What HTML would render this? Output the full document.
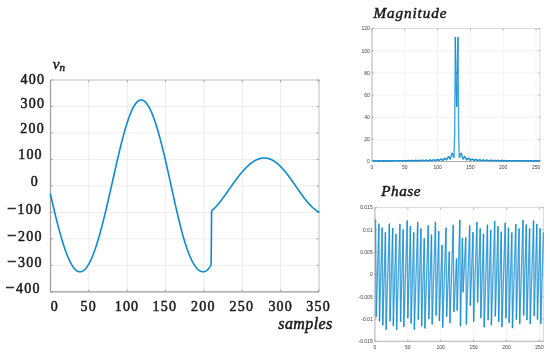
<!DOCTYPE html>
<html><head><meta charset="utf-8"><title>Signal, Magnitude and Phase</title>
<style>html,body{margin:0;padding:0;background:#fff;}svg{display:block;filter:blur(0.35px);}.ser{font-family:"Liberation Serif",serif;fill:#1a1a1a;}.ita{font-family:"Liberation Serif",serif;font-style:italic;fill:#1a1a1a;}.sm{font-family:"Liberation Sans",sans-serif;fill:#3c3c3c;font-size:5px;}</style></head><body>
<svg width="550" height="354" viewBox="0 0 550 354">
<rect width="550" height="354" fill="#ffffff"/>
<line x1="88.86" y1="80" x2="88.86" y2="291.8" stroke="#e8e8e8" stroke-width="0.8"/>
<line x1="127.21" y1="80" x2="127.21" y2="291.8" stroke="#e8e8e8" stroke-width="0.8"/>
<line x1="165.57" y1="80" x2="165.57" y2="291.8" stroke="#e8e8e8" stroke-width="0.8"/>
<line x1="203.93" y1="80" x2="203.93" y2="291.8" stroke="#e8e8e8" stroke-width="0.8"/>
<line x1="242.29" y1="80" x2="242.29" y2="291.8" stroke="#e8e8e8" stroke-width="0.8"/>
<line x1="280.64" y1="80" x2="280.64" y2="291.8" stroke="#e8e8e8" stroke-width="0.8"/>
<line x1="50.5" y1="265.33" x2="319" y2="265.33" stroke="#e8e8e8" stroke-width="0.8"/>
<line x1="50.5" y1="238.85" x2="319" y2="238.85" stroke="#e8e8e8" stroke-width="0.8"/>
<line x1="50.5" y1="212.38" x2="319" y2="212.38" stroke="#e8e8e8" stroke-width="0.8"/>
<line x1="50.5" y1="185.9" x2="319" y2="185.9" stroke="#e8e8e8" stroke-width="0.8"/>
<line x1="50.5" y1="159.43" x2="319" y2="159.43" stroke="#e8e8e8" stroke-width="0.8"/>
<line x1="50.5" y1="132.95" x2="319" y2="132.95" stroke="#e8e8e8" stroke-width="0.8"/>
<line x1="50.5" y1="106.48" x2="319" y2="106.48" stroke="#e8e8e8" stroke-width="0.8"/>
<path d="M50.5 80H319V291.8" fill="none" stroke="#c0c0c0" stroke-width="1.02"/>
<path d="M50.5 80V291.8H319" fill="none" stroke="#9c9c9c" stroke-width="1.2"/>
<path d="M50.5 291.8v-2.5M50.5 80v2.5M88.86 291.8v-2.5M88.86 80v2.5M127.21 291.8v-2.5M127.21 80v2.5M165.57 291.8v-2.5M165.57 80v2.5M203.93 291.8v-2.5M203.93 80v2.5M242.29 291.8v-2.5M242.29 80v2.5M280.64 291.8v-2.5M280.64 80v2.5M319 291.8v-2.5M319 80v2.5M50.5 291.8h2.5M319 291.8h-2.5M50.5 265.33h2.5M319 265.33h-2.5M50.5 238.85h2.5M319 238.85h-2.5M50.5 212.38h2.5M319 212.38h-2.5M50.5 185.9h2.5M319 185.9h-2.5M50.5 159.43h2.5M319 159.43h-2.5M50.5 132.95h2.5M319 132.95h-2.5M50.5 106.48h2.5M319 106.48h-2.5M50.5 80h2.5M319 80h-2.5" fill="none" stroke="#9c9c9c" stroke-width="0.8"/>
<path d="M50.50 194.37 L50.81 195.72 L51.11 197.06 L51.42 198.40 L51.73 199.74 L52.03 201.07 L52.34 202.39 L52.65 203.71 L52.95 205.03 L53.26 206.33 L53.57 207.64 L53.88 208.93 L54.18 210.22 L54.49 211.51 L54.80 212.78 L55.10 214.05 L55.41 215.31 L55.72 216.56 L56.02 217.80 L56.33 219.04 L56.64 220.26 L56.94 221.48 L57.25 222.69 L57.56 223.88 L57.86 225.07 L58.17 226.25 L58.48 227.41 L58.79 228.57 L59.09 229.71 L59.40 230.85 L59.71 231.97 L60.01 233.08 L60.32 234.18 L60.63 235.26 L60.93 236.34 L61.24 237.40 L61.55 238.45 L61.85 239.49 L62.16 240.51 L62.47 241.52 L62.77 242.51 L63.08 243.49 L63.39 244.46 L63.69 245.42 L64.00 246.35 L64.31 247.28 L64.62 248.19 L64.92 249.08 L65.23 249.96 L65.54 250.83 L65.84 251.68 L66.15 252.51 L66.46 253.33 L66.76 254.13 L67.07 254.91 L67.38 255.68 L67.68 256.44 L67.99 257.17 L68.30 257.89 L68.60 258.59 L68.91 259.28 L69.22 259.95 L69.53 260.60 L69.83 261.23 L70.14 261.85 L70.45 262.45 L70.75 263.03 L71.06 263.59 L71.37 264.14 L71.67 264.67 L71.98 265.18 L72.29 265.67 L72.59 266.14 L72.90 266.59 L73.21 267.03 L73.51 267.45 L73.82 267.85 L74.13 268.23 L74.43 268.59 L74.74 268.93 L75.05 269.25 L75.36 269.56 L75.66 269.84 L75.97 270.11 L76.28 270.35 L76.58 270.58 L76.89 270.79 L77.20 270.98 L77.50 271.15 L77.81 271.30 L78.12 271.43 L78.42 271.54 L78.73 271.64 L79.04 271.71 L79.34 271.76 L79.65 271.80 L79.96 271.81 L80.27 271.81 L80.57 271.78 L80.88 271.74 L81.19 271.67 L81.49 271.59 L81.80 271.49 L82.11 271.37 L82.41 271.23 L82.72 271.07 L83.03 270.89 L83.33 270.69 L83.64 270.47 L83.95 270.23 L84.25 269.98 L84.56 269.70 L84.87 269.41 L85.17 269.09 L85.48 268.76 L85.79 268.41 L86.10 268.04 L86.40 267.65 L86.71 267.24 L87.02 266.81 L87.32 266.37 L87.63 265.91 L87.94 265.42 L88.24 264.92 L88.55 264.41 L88.86 263.87 L89.16 263.31 L89.47 262.74 L89.78 262.15 L90.08 261.54 L90.39 260.92 L90.70 260.28 L91.01 259.62 L91.31 258.94 L91.62 258.25 L91.93 257.54 L92.23 256.81 L92.54 256.06 L92.85 255.30 L93.15 254.52 L93.46 253.73 L93.77 252.92 L94.07 252.10 L94.38 251.26 L94.69 250.40 L94.99 249.53 L95.30 248.64 L95.61 247.74 L95.91 246.82 L96.22 245.89 L96.53 244.94 L96.84 243.98 L97.14 243.01 L97.45 242.02 L97.76 241.02 L98.06 240.00 L98.37 238.97 L98.68 237.93 L98.98 236.87 L99.29 235.81 L99.60 234.73 L99.90 233.63 L100.21 232.53 L100.52 231.41 L100.82 230.29 L101.13 229.15 L101.44 228.00 L101.75 226.84 L102.05 225.66 L102.36 224.48 L102.67 223.29 L102.97 222.09 L103.28 220.88 L103.59 219.66 L103.89 218.43 L104.20 217.19 L104.51 215.94 L104.81 214.68 L105.12 213.42 L105.43 212.15 L105.73 210.87 L106.04 209.59 L106.35 208.29 L106.65 206.99 L106.96 205.69 L107.27 204.38 L107.58 203.06 L107.88 201.74 L108.19 200.41 L108.50 199.08 L108.80 197.74 L109.11 196.40 L109.42 195.05 L109.72 193.71 L110.03 192.35 L110.34 191.00 L110.64 189.64 L110.95 188.28 L111.26 186.92 L111.56 185.56 L111.87 184.19 L112.18 182.83 L112.49 181.46 L112.79 180.10 L113.10 178.73 L113.41 177.37 L113.71 176.00 L114.02 174.64 L114.33 173.28 L114.63 171.92 L114.94 170.56 L115.25 169.21 L115.55 167.86 L115.86 166.51 L116.17 165.17 L116.47 163.83 L116.78 162.50 L117.09 161.17 L117.39 159.84 L117.70 158.53 L118.01 157.22 L118.32 155.91 L118.62 154.61 L118.93 153.32 L119.24 152.04 L119.54 150.77 L119.85 149.50 L120.16 148.25 L120.46 147.00 L120.77 145.76 L121.08 144.53 L121.38 143.31 L121.69 142.11 L122.00 140.91 L122.30 139.73 L122.61 138.55 L122.92 137.39 L123.23 136.24 L123.53 135.11 L123.84 133.99 L124.15 132.88 L124.45 131.78 L124.76 130.70 L125.07 129.63 L125.37 128.58 L125.68 127.54 L125.99 126.52 L126.29 125.52 L126.60 124.53 L126.91 123.55 L127.21 122.59 L127.52 121.65 L127.83 120.73 L128.13 119.82 L128.44 118.93 L128.75 118.06 L129.06 117.21 L129.36 116.37 L129.67 115.56 L129.98 114.76 L130.28 113.98 L130.59 113.22 L130.90 112.48 L131.20 111.76 L131.51 111.06 L131.82 110.38 L132.12 109.72 L132.43 109.08 L132.74 108.47 L133.04 107.87 L133.35 107.29 L133.66 106.73 L133.97 106.20 L134.27 105.69 L134.58 105.19 L134.89 104.72 L135.19 104.28 L135.50 103.85 L135.81 103.44 L136.11 103.06 L136.42 102.70 L136.73 102.36 L137.03 102.05 L137.34 101.75 L137.65 101.48 L137.95 101.23 L138.26 101.01 L138.57 100.81 L138.87 100.62 L139.18 100.47 L139.49 100.33 L139.80 100.22 L140.10 100.13 L140.41 100.06 L140.72 100.01 L141.02 99.99 L141.33 99.99 L141.64 100.01 L141.94 100.06 L142.25 100.13 L142.56 100.22 L142.86 100.33 L143.17 100.46 L143.48 100.62 L143.78 100.80 L144.09 101.00 L144.40 101.22 L144.71 101.47 L145.01 101.73 L145.32 102.02 L145.63 102.33 L145.93 102.66 L146.24 103.01 L146.55 103.39 L146.85 103.78 L147.16 104.20 L147.47 104.63 L147.77 105.09 L148.08 105.57 L148.39 106.07 L148.69 106.59 L149.00 107.13 L149.31 107.69 L149.61 108.27 L149.92 108.87 L150.23 109.49 L150.54 110.12 L150.84 110.78 L151.15 111.46 L151.46 112.15 L151.76 112.87 L152.07 113.60 L152.38 114.35 L152.68 115.12 L152.99 115.91 L153.30 116.72 L153.60 117.54 L153.91 118.38 L154.22 119.24 L154.52 120.11 L154.83 121.01 L155.14 121.91 L155.45 122.84 L155.75 123.78 L156.06 124.74 L156.37 125.71 L156.67 126.70 L156.98 127.70 L157.29 128.72 L157.59 129.75 L157.90 130.80 L158.21 131.86 L158.51 132.94 L158.82 134.02 L159.13 135.13 L159.43 136.24 L159.74 137.37 L160.05 138.51 L160.35 139.67 L160.66 140.83 L160.97 142.01 L161.28 143.20 L161.58 144.40 L161.89 145.61 L162.20 146.83 L162.50 148.07 L162.81 149.31 L163.12 150.56 L163.42 151.82 L163.73 153.09 L164.04 154.37 L164.34 155.66 L164.65 156.96 L164.96 158.27 L165.26 159.58 L165.57 160.90 L165.88 162.23 L166.19 163.56 L166.49 164.90 L166.80 166.25 L167.11 167.60 L167.41 168.96 L167.72 170.32 L168.03 171.69 L168.33 173.06 L168.64 174.44 L168.95 175.81 L169.25 177.20 L169.56 178.58 L169.87 179.97 L170.17 181.37 L170.48 182.76 L170.79 184.15 L171.09 185.55 L171.40 186.95 L171.71 188.35 L172.02 189.74 L172.32 191.14 L172.63 192.54 L172.94 193.93 L173.24 195.33 L173.55 196.72 L173.86 198.11 L174.16 199.49 L174.47 200.87 L174.78 202.25 L175.08 203.62 L175.39 204.99 L175.70 206.35 L176.00 207.70 L176.31 209.05 L176.62 210.39 L176.93 211.72 L177.23 213.04 L177.54 214.36 L177.85 215.66 L178.15 216.96 L178.46 218.25 L178.77 219.53 L179.07 220.79 L179.38 222.05 L179.69 223.29 L179.99 224.52 L180.30 225.74 L180.61 226.95 L180.91 228.14 L181.22 229.32 L181.53 230.49 L181.83 231.64 L182.14 232.78 L182.45 233.90 L182.76 235.01 L183.06 236.11 L183.37 237.18 L183.68 238.25 L183.98 239.29 L184.29 240.33 L184.60 241.34 L184.90 242.34 L185.21 243.32 L185.52 244.28 L185.82 245.23 L186.13 246.16 L186.44 247.08 L186.74 247.97 L187.05 248.85 L187.36 249.72 L187.67 250.56 L187.97 251.39 L188.28 252.20 L188.59 253.00 L188.89 253.78 L189.20 254.54 L189.51 255.29 L189.81 256.02 L190.12 256.73 L190.43 257.43 L190.73 258.11 L191.04 258.77 L191.35 259.42 L191.65 260.05 L191.96 260.66 L192.27 261.26 L192.57 261.84 L192.88 262.41 L193.19 262.96 L193.50 263.49 L193.80 264.01 L194.11 264.51 L194.42 265.00 L194.72 265.47 L195.03 265.92 L195.34 266.35 L195.64 266.77 L195.95 267.18 L196.26 267.56 L196.56 267.93 L196.87 268.29 L197.18 268.63 L197.48 268.95 L197.79 269.25 L198.10 269.54 L198.41 269.81 L198.71 270.06 L199.02 270.30 L199.33 270.52 L199.63 270.73 L199.94 270.91 L200.25 271.08 L200.55 271.23 L200.86 271.37 L201.17 271.48 L201.47 271.58 L201.78 271.67 L202.09 271.73 L202.39 271.77 L202.70 271.80 L203.01 271.81 L203.31 271.80 L203.62 271.77 L203.93 271.73 L204.24 271.66 L204.54 271.58 L204.85 271.47 L205.16 271.35 L205.46 271.21 L205.77 271.05 L206.08 270.86 L206.38 270.66 L206.69 270.44 L207.00 270.19 L207.30 269.93 L207.61 269.64 L207.92 269.34 L208.22 269.01 L208.53 268.66 L208.84 268.29 L209.15 267.90 L209.45 267.48 L209.76 267.04 L210.07 266.58 L210.37 266.10 L210.68 265.59 L211.14 264.27 L211.60 212.38 L211.83 210.52 L212.14 210.28 L212.44 210.02 L212.75 209.76 L213.06 209.50 L213.36 209.22 L213.67 208.94 L213.98 208.65 L214.29 208.36 L214.59 208.06 L214.90 207.75 L215.21 207.44 L215.51 207.12 L215.82 206.80 L216.13 206.47 L216.43 206.13 L216.74 205.79 L217.05 205.45 L217.35 205.10 L217.66 204.74 L217.97 204.38 L218.27 204.02 L218.58 203.65 L218.89 203.28 L219.19 202.90 L219.50 202.52 L219.81 202.14 L220.12 201.75 L220.42 201.36 L220.73 200.96 L221.04 200.57 L221.34 200.16 L221.65 199.76 L221.96 199.35 L222.26 198.94 L222.57 198.53 L222.88 198.12 L223.18 197.70 L223.49 197.28 L223.80 196.86 L224.10 196.44 L224.41 196.01 L224.72 195.58 L225.03 195.16 L225.33 194.73 L225.64 194.29 L225.95 193.86 L226.25 193.43 L226.56 193.00 L226.87 192.56 L227.17 192.12 L227.48 191.69 L227.79 191.25 L228.09 190.81 L228.40 190.38 L228.71 189.94 L229.01 189.50 L229.32 189.06 L229.63 188.63 L229.93 188.19 L230.24 187.75 L230.55 187.31 L230.86 186.88 L231.16 186.44 L231.47 186.01 L231.78 185.57 L232.08 185.14 L232.39 184.71 L232.70 184.28 L233.00 183.85 L233.31 183.42 L233.62 182.99 L233.92 182.57 L234.23 182.14 L234.54 181.72 L234.84 181.30 L235.15 180.88 L235.46 180.46 L235.77 180.05 L236.07 179.63 L236.38 179.22 L236.69 178.81 L236.99 178.41 L237.30 178.00 L237.61 177.60 L237.91 177.20 L238.22 176.80 L238.53 176.41 L238.83 176.02 L239.14 175.63 L239.45 175.24 L239.75 174.86 L240.06 174.48 L240.37 174.10 L240.67 173.72 L240.98 173.35 L241.29 172.98 L241.60 172.62 L241.90 172.26 L242.21 171.90 L242.52 171.54 L242.82 171.19 L243.13 170.84 L243.44 170.50 L243.74 170.16 L244.05 169.82 L244.36 169.49 L244.66 169.16 L244.97 168.83 L245.28 168.51 L245.58 168.19 L245.89 167.88 L246.20 167.57 L246.51 167.26 L246.81 166.96 L247.12 166.67 L247.43 166.37 L247.73 166.08 L248.04 165.80 L248.35 165.52 L248.65 165.24 L248.96 164.97 L249.27 164.71 L249.57 164.45 L249.88 164.19 L250.19 163.94 L250.49 163.69 L250.80 163.44 L251.11 163.21 L251.41 162.97 L251.72 162.74 L252.03 162.52 L252.34 162.30 L252.64 162.09 L252.95 161.88 L253.26 161.67 L253.56 161.48 L253.87 161.28 L254.18 161.09 L254.48 160.91 L254.79 160.73 L255.10 160.56 L255.40 160.39 L255.71 160.23 L256.02 160.07 L256.32 159.92 L256.63 159.77 L256.94 159.63 L257.25 159.50 L257.55 159.37 L257.86 159.25 L258.17 159.13 L258.47 159.01 L258.78 158.91 L259.09 158.80 L259.39 158.71 L259.70 158.62 L260.01 158.53 L260.31 158.46 L260.62 158.38 L260.93 158.32 L261.23 158.25 L261.54 158.20 L261.85 158.15 L262.15 158.11 L262.46 158.07 L262.77 158.04 L263.08 158.01 L263.38 157.99 L263.69 157.98 L264.00 157.97 L264.30 157.97 L264.61 157.97 L264.92 157.98 L265.22 158.00 L265.53 158.02 L265.84 158.05 L266.14 158.09 L266.45 158.13 L266.76 158.18 L267.06 158.23 L267.37 158.29 L267.68 158.36 L267.99 158.43 L268.29 158.51 L268.60 158.59 L268.91 158.68 L269.21 158.78 L269.52 158.88 L269.83 158.99 L270.13 159.11 L270.44 159.23 L270.75 159.36 L271.05 159.49 L271.36 159.63 L271.67 159.78 L271.97 159.93 L272.28 160.09 L272.59 160.25 L272.89 160.42 L273.20 160.60 L273.51 160.78 L273.82 160.97 L274.12 161.16 L274.43 161.36 L274.74 161.57 L275.04 161.78 L275.35 162.00 L275.66 162.22 L275.96 162.45 L276.27 162.68 L276.58 162.92 L276.88 163.17 L277.19 163.42 L277.50 163.68 L277.80 163.94 L278.11 164.21 L278.42 164.48 L278.73 164.76 L279.03 165.04 L279.34 165.33 L279.65 165.62 L279.95 165.92 L280.26 166.22 L280.57 166.53 L280.87 166.84 L281.18 167.16 L281.49 167.48 L281.79 167.81 L282.10 168.14 L282.41 168.47 L282.71 168.81 L283.02 169.16 L283.33 169.51 L283.63 169.86 L283.94 170.22 L284.25 170.58 L284.56 170.94 L284.86 171.31 L285.17 171.68 L285.48 172.06 L285.78 172.44 L286.09 172.82 L286.40 173.21 L286.70 173.60 L287.01 173.99 L287.32 174.39 L287.62 174.79 L287.93 175.19 L288.24 175.60 L288.54 176.00 L288.85 176.41 L289.16 176.83 L289.47 177.24 L289.77 177.66 L290.08 178.08 L290.39 178.50 L290.69 178.93 L291.00 179.35 L291.31 179.78 L291.61 180.21 L291.92 180.64 L292.23 181.07 L292.53 181.51 L292.84 181.94 L293.15 182.38 L293.45 182.82 L293.76 183.26 L294.07 183.69 L294.37 184.13 L294.68 184.58 L294.99 185.02 L295.30 185.46 L295.60 185.90 L295.91 186.34 L296.22 186.78 L296.52 187.23 L296.83 187.67 L297.14 188.11 L297.44 188.55 L297.75 188.99 L298.06 189.43 L298.36 189.87 L298.67 190.31 L298.98 190.75 L299.28 191.18 L299.59 191.62 L299.90 192.05 L300.21 192.49 L300.51 192.92 L300.82 193.35 L301.13 193.77 L301.43 194.20 L301.74 194.62 L302.05 195.04 L302.35 195.46 L302.66 195.88 L302.97 196.30 L303.27 196.71 L303.58 197.12 L303.89 197.52 L304.19 197.93 L304.50 198.33 L304.81 198.73 L305.11 199.12 L305.42 199.51 L305.73 199.90 L306.04 200.28 L306.34 200.66 L306.65 201.04 L306.96 201.42 L307.26 201.78 L307.57 202.15 L307.88 202.51 L308.18 202.87 L308.49 203.22 L308.80 203.57 L309.10 203.91 L309.41 204.25 L309.72 204.59 L310.02 204.92 L310.33 205.24 L310.64 205.56 L310.95 205.88 L311.25 206.19 L311.56 206.49 L311.87 206.79 L312.17 207.09 L312.48 207.38 L312.79 207.66 L313.09 207.94 L313.40 208.21 L313.71 208.48 L314.01 208.74 L314.32 208.99 L314.63 209.24 L314.93 209.48 L315.24 209.72 L315.55 209.95 L315.85 210.18 L316.16 210.40 L316.47 210.61 L316.78 210.81 L317.08 211.01 L317.39 211.21 L317.70 211.39 L318.00 211.57 L318.31 211.74 L318.62 211.91 L318.92 212.07" fill="none" stroke="#0a8ad2" stroke-width="1.6" stroke-linejoin="round" stroke-linecap="round"/>
<text class="ser" x="20.5" y="84" font-size="14" letter-spacing="1.2" stroke="#1a1a1a" stroke-width="0.5">400</text>
<text class="ser" x="20.5" y="107.8" font-size="14" letter-spacing="1.2" stroke="#1a1a1a" stroke-width="0.5">300</text>
<text class="ser" x="20.3" y="132.7" font-size="14" letter-spacing="1.2" stroke="#1a1a1a" stroke-width="0.5">200</text>
<text class="ser" x="18.2" y="158.7" font-size="14" letter-spacing="1.2" stroke="#1a1a1a" stroke-width="0.5">100</text>
<text class="ser" x="30.8" y="186.4" font-size="14" letter-spacing="1.2" stroke="#1a1a1a" stroke-width="0.5">0</text>
<text class="ser" y="213.6" font-size="14" letter-spacing="1.2" stroke="#1a1a1a" stroke-width="0.5"><tspan x="7.1" font-size="16.5">−</tspan><tspan x="17.6">100</tspan></text>
<text class="ser" y="240.5" font-size="14" letter-spacing="1.2" stroke="#1a1a1a" stroke-width="0.5"><tspan x="7.0" font-size="16.5">−</tspan><tspan x="18.0">200</tspan></text>
<text class="ser" y="266.9" font-size="14" letter-spacing="1.2" stroke="#1a1a1a" stroke-width="0.5"><tspan x="7.0" font-size="16.5">−</tspan><tspan x="18.0">300</tspan></text>
<text class="ser" y="293" font-size="14" letter-spacing="1.2" stroke="#1a1a1a" stroke-width="0.5"><tspan x="5.2" font-size="16.5">−</tspan><tspan x="16.0">400</tspan></text>
<text class="ser" x="54.8" y="310.5" font-size="14" letter-spacing="1.2" text-anchor="middle" stroke="#1a1a1a" stroke-width="0.5">0</text>
<text class="ser" x="88.80000000000001" y="310.5" font-size="14" letter-spacing="1.2" text-anchor="middle" stroke="#1a1a1a" stroke-width="0.5">50</text>
<text class="ser" x="127.0" y="310.5" font-size="14" letter-spacing="1.2" text-anchor="middle" stroke="#1a1a1a" stroke-width="0.5">100</text>
<text class="ser" x="164.9" y="310.5" font-size="14" letter-spacing="1.2" text-anchor="middle" stroke="#1a1a1a" stroke-width="0.5">150</text>
<text class="ser" x="203.4" y="310.5" font-size="14" letter-spacing="1.2" text-anchor="middle" stroke="#1a1a1a" stroke-width="0.5">200</text>
<text class="ser" x="241.9" y="310.5" font-size="14" letter-spacing="1.2" text-anchor="middle" stroke="#1a1a1a" stroke-width="0.5">250</text>
<text class="ser" x="280.7" y="310.5" font-size="14" letter-spacing="1.2" text-anchor="middle" stroke="#1a1a1a" stroke-width="0.5">300</text>
<text class="ser" x="318.59999999999997" y="310.5" font-size="14" letter-spacing="1.2" text-anchor="middle" stroke="#1a1a1a" stroke-width="0.5">350</text>
<text class="ita" x="278.3" y="328.6" font-size="16" letter-spacing="0.4" stroke="#1a1a1a" stroke-width="0.5">samples</text>
<text class="ita" x="52.8" y="69.1" font-size="15.2" stroke="#1a1a1a" stroke-width="0.5">v<tspan font-size="11" dy="1.9">n</tspan></text>
<line x1="404.81" y1="28.6" x2="404.81" y2="161.5" stroke="#ececec" stroke-width="0.6"/>
<line x1="437.62" y1="28.6" x2="437.62" y2="161.5" stroke="#ececec" stroke-width="0.6"/>
<line x1="470.44" y1="28.6" x2="470.44" y2="161.5" stroke="#ececec" stroke-width="0.6"/>
<line x1="503.25" y1="28.6" x2="503.25" y2="161.5" stroke="#ececec" stroke-width="0.6"/>
<line x1="536.06" y1="28.6" x2="536.06" y2="161.5" stroke="#ececec" stroke-width="0.6"/>
<line x1="372" y1="139.35" x2="540" y2="139.35" stroke="#ececec" stroke-width="0.6"/>
<line x1="372" y1="117.2" x2="540" y2="117.2" stroke="#ececec" stroke-width="0.6"/>
<line x1="372" y1="95.05" x2="540" y2="95.05" stroke="#ececec" stroke-width="0.6"/>
<line x1="372" y1="72.9" x2="540" y2="72.9" stroke="#ececec" stroke-width="0.6"/>
<line x1="372" y1="50.75" x2="540" y2="50.75" stroke="#ececec" stroke-width="0.6"/>
<path d="M372 28.6H540V161.5" fill="none" stroke="#cccccc" stroke-width="0.77"/>
<path d="M372 28.6V161.5H540" fill="none" stroke="#a6a6a6" stroke-width="0.9"/>
<path d="M372 161.5v-1.8M372 28.6v1.8M404.81 161.5v-1.8M404.81 28.6v1.8M437.62 161.5v-1.8M437.62 28.6v1.8M470.44 161.5v-1.8M470.44 28.6v1.8M503.25 161.5v-1.8M503.25 28.6v1.8M536.06 161.5v-1.8M536.06 28.6v1.8M372 161.5h1.8M540 161.5h-1.8M372 139.35h1.8M540 139.35h-1.8M372 117.2h1.8M540 117.2h-1.8M372 95.05h1.8M540 95.05h-1.8M372 72.9h1.8M540 72.9h-1.8M372 50.75h1.8M540 50.75h-1.8M372 28.6h1.8M540 28.6h-1.8" fill="none" stroke="#a6a6a6" stroke-width="0.8"/>
<path d="M372.66 160.86L373.31 160.87M373.97 160.80L374.62 160.73M375.28 160.74L375.94 160.81M376.59 160.87L377.25 160.84M377.91 160.76L378.56 160.71M379.22 160.76L379.88 160.84M380.53 160.86L381.19 160.80M381.84 160.72L382.50 160.71M383.16 160.78L383.81 160.85M384.47 160.84L385.12 160.75M385.78 160.68L386.44 160.71M387.09 160.80L387.75 160.85M388.41 160.80L389.06 160.70M389.72 160.66L390.38 160.73M391.03 160.83L391.69 160.84M392.34 160.75L393.00 160.65M393.66 160.66L394.31 160.76M394.97 160.84L395.62 160.80M396.28 160.68L396.94 160.62M397.59 160.67L398.25 160.79M398.91 160.83L399.56 160.74M400.22 160.62L400.88 160.60M401.53 160.70L402.19 160.81M402.84 160.79L403.50 160.66M404.16 160.56L404.81 160.60M405.47 160.74L406.12 160.81M406.78 160.73L407.44 160.57M408.09 160.52L408.75 160.62M409.41 160.76L410.06 160.78M410.72 160.64L411.38 160.49M412.03 160.50L412.69 160.65M413.34 160.77L414.00 160.71M414.66 160.52L415.31 160.41M415.97 160.51L416.62 160.69M417.28 160.75L417.94 160.60M418.59 160.40L419.25 160.36M419.91 160.53L420.56 160.71M421.22 160.68L421.88 160.45M422.53 160.27L423.19 160.33M423.84 160.57L424.50 160.70M425.16 160.55L425.81 160.26M426.47 160.15L427.12 160.34M427.78 160.60L428.44 160.63M429.09 160.34L429.75 160.05M430.41 160.05L431.06 160.36M431.72 160.60L432.38 160.46M433.03 160.05L433.69 159.80M434.34 159.98L435.00 160.38M435.66 160.51L436.31 160.15M436.97 159.65L437.62 159.53M438.28 159.93L438.94 160.36M439.59 160.26L440.25 159.63M440.91 159.09L441.56 159.22M442.22 159.85L442.88 160.21M443.53 159.71L444.19 158.73M444.84 158.25L445.50 158.78M446.16 159.66L446.81 159.69M447.47 158.44L448.12 156.94M448.78 156.68L449.44 157.90M450.09 158.95L450.75 157.88M451.41 155.08L452.06 153.30M452.72 154.19L453.38 156.63M454.03 157.07L454.69 133.81M455.34 37.46L456.00 72.90M456.66 106.12L457.31 72.90M457.97 37.46L458.62 133.81M459.28 157.07L459.94 156.63M460.59 154.19L461.25 153.30M461.91 155.08L462.56 157.88M463.22 158.95L463.88 157.90M464.53 156.68L465.19 156.94M465.84 158.44L466.50 159.69M467.16 159.66L467.81 158.78M468.47 158.25L469.12 158.73M469.78 159.71L470.44 160.21M471.09 159.85L471.75 159.22M472.41 159.09L473.06 159.63M473.72 160.26L474.38 160.36M475.03 159.93L475.69 159.53M476.34 159.65L477.00 160.15M477.66 160.51L478.31 160.38M478.97 159.98L479.62 159.80M480.28 160.05L480.94 160.46M481.59 160.60L482.25 160.36M482.91 160.05L483.56 160.05M484.22 160.34L484.88 160.63M485.53 160.60L486.19 160.34M486.84 160.15L487.50 160.26M488.16 160.55L488.81 160.70M489.47 160.57L490.12 160.33M490.78 160.27L491.44 160.45M492.09 160.68L492.75 160.71M493.41 160.53L494.06 160.36M494.72 160.40L495.38 160.60M496.03 160.75L496.69 160.69M497.34 160.51L498.00 160.41M498.66 160.52L499.31 160.71M499.97 160.77L500.62 160.65M501.28 160.50L501.94 160.49M502.59 160.64L503.25 160.78M503.91 160.76L504.56 160.62M505.22 160.52L505.88 160.57M506.53 160.73L507.19 160.81M507.84 160.74L508.50 160.60M509.16 160.56L509.81 160.66M510.47 160.79L511.12 160.81M511.78 160.70L512.44 160.60M513.09 160.62L513.75 160.74M514.41 160.83L515.06 160.79M515.72 160.67L516.38 160.62M517.03 160.68L517.69 160.80M518.34 160.84L519.00 160.76M519.66 160.66L520.31 160.65M520.97 160.75L521.62 160.84M522.28 160.83L522.94 160.73M523.59 160.66L524.25 160.70M524.91 160.80L525.56 160.85M526.22 160.80L526.88 160.71M527.53 160.68L528.19 160.75M528.84 160.84L529.50 160.85M530.16 160.78L530.81 160.71M531.47 160.72L532.12 160.80M532.78 160.86L533.44 160.84M534.09 160.76L534.75 160.71M535.41 160.76L536.06 160.84M536.72 160.87L537.38 160.81M538.03 160.74L538.69 160.73M539.34 160.80L540.00 160.87" fill="none" stroke="#0a8ad2" stroke-opacity="0.78" stroke-width="1.35" stroke-linecap="round"/>
<path d="M373.31 160.87L373.97 160.80M374.62 160.73L375.28 160.74M375.94 160.81L376.59 160.87M377.25 160.84L377.91 160.76M378.56 160.71L379.22 160.76M379.88 160.84L380.53 160.86M381.19 160.80L381.84 160.72M382.50 160.71L383.16 160.78M383.81 160.85L384.47 160.84M385.12 160.75L385.78 160.68M386.44 160.71L387.09 160.80M387.75 160.85L388.41 160.80M389.06 160.70L389.72 160.66M390.38 160.73L391.03 160.83M391.69 160.84L392.34 160.75M393.00 160.65L393.66 160.66M394.31 160.76L394.97 160.84M395.62 160.80L396.28 160.68M396.94 160.62L397.59 160.67M398.25 160.79L398.91 160.83M399.56 160.74L400.22 160.62M400.88 160.60L401.53 160.70M402.19 160.81L402.84 160.79M403.50 160.66L404.16 160.56M404.81 160.60L405.47 160.74M406.12 160.81L406.78 160.73M407.44 160.57L408.09 160.52M408.75 160.62L409.41 160.76M410.06 160.78L410.72 160.64M411.38 160.49L412.03 160.50M412.69 160.65L413.34 160.77M414.00 160.71L414.66 160.52M415.31 160.41L415.97 160.51M416.62 160.69L417.28 160.75M417.94 160.60L418.59 160.40M419.25 160.36L419.91 160.53M420.56 160.71L421.22 160.68M421.88 160.45L422.53 160.27M423.19 160.33L423.84 160.57M424.50 160.70L425.16 160.55M425.81 160.26L426.47 160.15M427.12 160.34L427.78 160.60M428.44 160.63L429.09 160.34M429.75 160.05L430.41 160.05M431.06 160.36L431.72 160.60M432.38 160.46L433.03 160.05M433.69 159.80L434.34 159.98M435.00 160.38L435.66 160.51M436.31 160.15L436.97 159.65M437.62 159.53L438.28 159.93M438.94 160.36L439.59 160.26M440.25 159.63L440.91 159.09M441.56 159.22L442.22 159.85M442.88 160.21L443.53 159.71M444.19 158.73L444.84 158.25M445.50 158.78L446.16 159.66M446.81 159.69L447.47 158.44M448.12 156.94L448.78 156.68M449.44 157.90L450.09 158.95M450.75 157.88L451.41 155.08M452.06 153.30L452.72 154.19M453.38 156.63L454.03 157.07M454.69 133.81L455.34 37.46M456.00 72.90L456.66 106.12M457.31 72.90L457.97 37.46M458.62 133.81L459.28 157.07M459.94 156.63L460.59 154.19M461.25 153.30L461.91 155.08M462.56 157.88L463.22 158.95M463.88 157.90L464.53 156.68M465.19 156.94L465.84 158.44M466.50 159.69L467.16 159.66M467.81 158.78L468.47 158.25M469.12 158.73L469.78 159.71M470.44 160.21L471.09 159.85M471.75 159.22L472.41 159.09M473.06 159.63L473.72 160.26M474.38 160.36L475.03 159.93M475.69 159.53L476.34 159.65M477.00 160.15L477.66 160.51M478.31 160.38L478.97 159.98M479.62 159.80L480.28 160.05M480.94 160.46L481.59 160.60M482.25 160.36L482.91 160.05M483.56 160.05L484.22 160.34M484.88 160.63L485.53 160.60M486.19 160.34L486.84 160.15M487.50 160.26L488.16 160.55M488.81 160.70L489.47 160.57M490.12 160.33L490.78 160.27M491.44 160.45L492.09 160.68M492.75 160.71L493.41 160.53M494.06 160.36L494.72 160.40M495.38 160.60L496.03 160.75M496.69 160.69L497.34 160.51M498.00 160.41L498.66 160.52M499.31 160.71L499.97 160.77M500.62 160.65L501.28 160.50M501.94 160.49L502.59 160.64M503.25 160.78L503.91 160.76M504.56 160.62L505.22 160.52M505.88 160.57L506.53 160.73M507.19 160.81L507.84 160.74M508.50 160.60L509.16 160.56M509.81 160.66L510.47 160.79M511.12 160.81L511.78 160.70M512.44 160.60L513.09 160.62M513.75 160.74L514.41 160.83M515.06 160.79L515.72 160.67M516.38 160.62L517.03 160.68M517.69 160.80L518.34 160.84M519.00 160.76L519.66 160.66M520.31 160.65L520.97 160.75M521.62 160.84L522.28 160.83M522.94 160.73L523.59 160.66M524.25 160.70L524.91 160.80M525.56 160.85L526.22 160.80M526.88 160.71L527.53 160.68M528.19 160.75L528.84 160.84M529.50 160.85L530.16 160.78M530.81 160.71L531.47 160.72M532.12 160.80L532.78 160.86M533.44 160.84L534.09 160.76M534.75 160.71L535.41 160.76M536.06 160.84L536.72 160.87M537.38 160.81L538.03 160.74M538.69 160.73L539.34 160.80" fill="none" stroke="#0a8ad2" stroke-opacity="0.78" stroke-width="1.35" stroke-linecap="round"/>
<text class="sm" x="369.8" y="163.3" text-anchor="end">0</text>
<text class="sm" x="369.8" y="141.2" text-anchor="end">20</text>
<text class="sm" x="369.8" y="119.0" text-anchor="end">40</text>
<text class="sm" x="369.8" y="96.8" text-anchor="end">60</text>
<text class="sm" x="369.8" y="74.7" text-anchor="end">80</text>
<text class="sm" x="369.8" y="52.5" text-anchor="end">100</text>
<text class="sm" x="369.8" y="30.4" text-anchor="end">120</text>
<text class="sm" x="372.0" y="169.1" text-anchor="middle">0</text>
<text class="sm" x="404.8" y="169.1" text-anchor="middle">50</text>
<text class="sm" x="437.6" y="169.1" text-anchor="middle">100</text>
<text class="sm" x="470.4" y="169.1" text-anchor="middle">150</text>
<text class="sm" x="503.2" y="169.1" text-anchor="middle">200</text>
<text class="sm" x="536.1" y="169.1" text-anchor="middle">250</text>
<text class="ita" x="373.4" y="17.6" font-size="15.2" letter-spacing="0.9" stroke="#1a1a1a" stroke-width="0.5">Magnitude</text>
<line x1="407.81" y1="207.6" x2="407.81" y2="341.3" stroke="#ececec" stroke-width="0.6"/>
<line x1="440.72" y1="207.6" x2="440.72" y2="341.3" stroke="#ececec" stroke-width="0.6"/>
<line x1="473.63" y1="207.6" x2="473.63" y2="341.3" stroke="#ececec" stroke-width="0.6"/>
<line x1="506.54" y1="207.6" x2="506.54" y2="341.3" stroke="#ececec" stroke-width="0.6"/>
<line x1="539.45" y1="207.6" x2="539.45" y2="341.3" stroke="#ececec" stroke-width="0.6"/>
<line x1="374.9" y1="319.02" x2="543.4" y2="319.02" stroke="#ececec" stroke-width="0.6"/>
<line x1="374.9" y1="296.73" x2="543.4" y2="296.73" stroke="#ececec" stroke-width="0.6"/>
<line x1="374.9" y1="274.45" x2="543.4" y2="274.45" stroke="#ececec" stroke-width="0.6"/>
<line x1="374.9" y1="252.17" x2="543.4" y2="252.17" stroke="#ececec" stroke-width="0.6"/>
<line x1="374.9" y1="229.88" x2="543.4" y2="229.88" stroke="#ececec" stroke-width="0.6"/>
<path d="M374.9 207.6H543.4V341.3" fill="none" stroke="#cccccc" stroke-width="0.77"/>
<path d="M374.9 207.6V341.3H543.4" fill="none" stroke="#a6a6a6" stroke-width="0.9"/>
<path d="M374.9 341.3v-1.8M374.9 207.6v1.8M407.81 341.3v-1.8M407.81 207.6v1.8M440.72 341.3v-1.8M440.72 207.6v1.8M473.63 341.3v-1.8M473.63 207.6v1.8M506.54 341.3v-1.8M506.54 207.6v1.8M539.45 341.3v-1.8M539.45 207.6v1.8M374.9 341.3h1.8M543.4 341.3h-1.8M374.9 319.02h1.8M543.4 319.02h-1.8M374.9 296.73h1.8M543.4 296.73h-1.8M374.9 274.45h1.8M543.4 274.45h-1.8M374.9 252.17h1.8M543.4 252.17h-1.8M374.9 229.88h1.8M543.4 229.88h-1.8M374.9 207.6h1.8M543.4 207.6h-1.8" fill="none" stroke="#a6a6a6" stroke-width="0.8"/>
<path d="M375.56 219.63L376.22 316.34M378.85 224.09L379.51 320.80M382.14 228.10L382.80 324.81M385.43 232.56L386.09 329.27M389.38 224.09L390.04 320.80M392.67 228.55L393.33 325.26M395.96 234.34L396.62 329.27M399.91 224.54L400.57 321.25M403.20 229.88L403.86 326.59M407.15 220.97L407.81 317.68M410.44 226.32L411.10 323.03M413.73 233.00L414.39 329.27M417.68 222.31L418.34 319.02M420.97 228.99L421.63 325.70M424.27 238.80L424.92 327.93M428.21 225.87L428.87 318.57M431.51 235.23L432.16 323.92M435.45 222.31L436.11 315.01M438.75 231.67L439.40 320.53M442.04 245.48L442.69 327.04M445.99 228.10L446.64 316.34M449.28 252.17L449.94 322.58M453.23 225.43L453.88 311.44M456.52 258.85L457.18 310.10M459.81 220.52L460.47 325.70M462.44 238.35L463.10 291.83M465.73 237.91L466.39 323.92M469.68 225.87L470.34 305.20M472.97 232.56L473.63 321.25M476.92 222.31L477.58 302.08M480.21 228.99L480.87 317.46M483.50 234.34L484.16 326.82M487.45 225.20L488.11 319.69M490.74 230.33L491.40 324.81M494.69 221.42L495.35 315.90M497.98 226.76L498.64 321.25M501.27 232.11L501.93 326.59M505.22 223.20L505.88 317.68M508.52 228.10L509.17 322.58M511.81 233.00L512.46 327.48M515.76 224.54L516.41 319.02M519.05 228.99L519.70 323.47M523.00 220.52L523.65 315.01M526.29 224.98L526.94 319.46M529.58 228.99L530.24 323.47M533.53 220.97L534.19 315.45M536.82 224.54L537.48 319.02M540.11 228.99L540.77 323.47" fill="none" stroke="#0a8ad2" stroke-opacity="0.75" stroke-width="1.35" stroke-linecap="round"/>
<path d="M376.22 316.34L378.85 224.09M379.51 320.80L382.14 228.10M382.80 324.81L385.43 232.56M386.09 329.27L389.38 224.09M390.04 320.80L392.67 228.55M393.33 325.26L395.96 234.34M396.62 329.27L399.91 224.54M400.57 321.25L403.20 229.88M403.86 326.59L407.15 220.97M407.81 317.68L410.44 226.32M411.10 323.03L413.73 233.00M414.39 329.27L417.68 222.31M418.34 319.02L420.97 228.99M421.63 325.70L424.27 238.80M424.92 327.93L428.21 225.87M428.87 318.57L431.51 235.23M432.16 323.92L435.45 222.31M436.11 315.01L438.75 231.67M439.40 320.53L442.04 245.48M442.69 327.04L445.99 228.10M446.64 316.34L449.28 252.17M449.94 322.58L453.23 225.43M453.88 311.44L456.52 258.85M457.18 310.10L459.81 220.52M460.47 325.70L462.44 238.35M463.10 291.83L465.73 237.91M466.39 323.92L469.68 225.87M470.34 305.20L472.97 232.56M473.63 321.25L476.92 222.31M477.58 302.08L480.21 228.99M480.87 317.46L483.50 234.34M484.16 326.82L487.45 225.20M488.11 319.69L490.74 230.33M491.40 324.81L494.69 221.42M495.35 315.90L497.98 226.76M498.64 321.25L501.27 232.11M501.93 326.59L505.22 223.20M505.88 317.68L508.52 228.10M509.17 322.58L511.81 233.00M512.46 327.48L515.76 224.54M516.41 319.02L519.05 228.99M519.70 323.47L523.00 220.52M523.65 315.01L526.29 224.98M526.94 319.46L529.58 228.99M530.24 323.47L533.53 220.97M534.19 315.45L536.82 224.54M537.48 319.02L540.11 228.99M540.77 323.47L543.40 233.00" fill="none" stroke="#0a8ad2" stroke-opacity="0.75" stroke-width="1.35" stroke-linecap="round"/>
<text class="sm" x="372.7" y="343.1" text-anchor="end">-0.015</text>
<text class="sm" x="372.7" y="320.8" text-anchor="end">-0.01</text>
<text class="sm" x="372.7" y="298.5" text-anchor="end">-0.005</text>
<text class="sm" x="372.7" y="276.2" text-anchor="end">0</text>
<text class="sm" x="372.7" y="254.0" text-anchor="end">0.005</text>
<text class="sm" x="372.7" y="231.7" text-anchor="end">0.01</text>
<text class="sm" x="372.7" y="209.4" text-anchor="end">0.015</text>
<text class="sm" x="374.9" y="348.9" text-anchor="middle">0</text>
<text class="sm" x="407.8" y="348.9" text-anchor="middle">50</text>
<text class="sm" x="440.7" y="348.9" text-anchor="middle">100</text>
<text class="sm" x="473.6" y="348.9" text-anchor="middle">150</text>
<text class="sm" x="506.5" y="348.9" text-anchor="middle">200</text>
<text class="sm" x="539.5" y="348.9" text-anchor="middle">250</text>
<text class="ita" x="381.3" y="195.9" font-size="15.2" letter-spacing="0.5" stroke="#1a1a1a" stroke-width="0.5">Phase</text>
</svg></body></html>
